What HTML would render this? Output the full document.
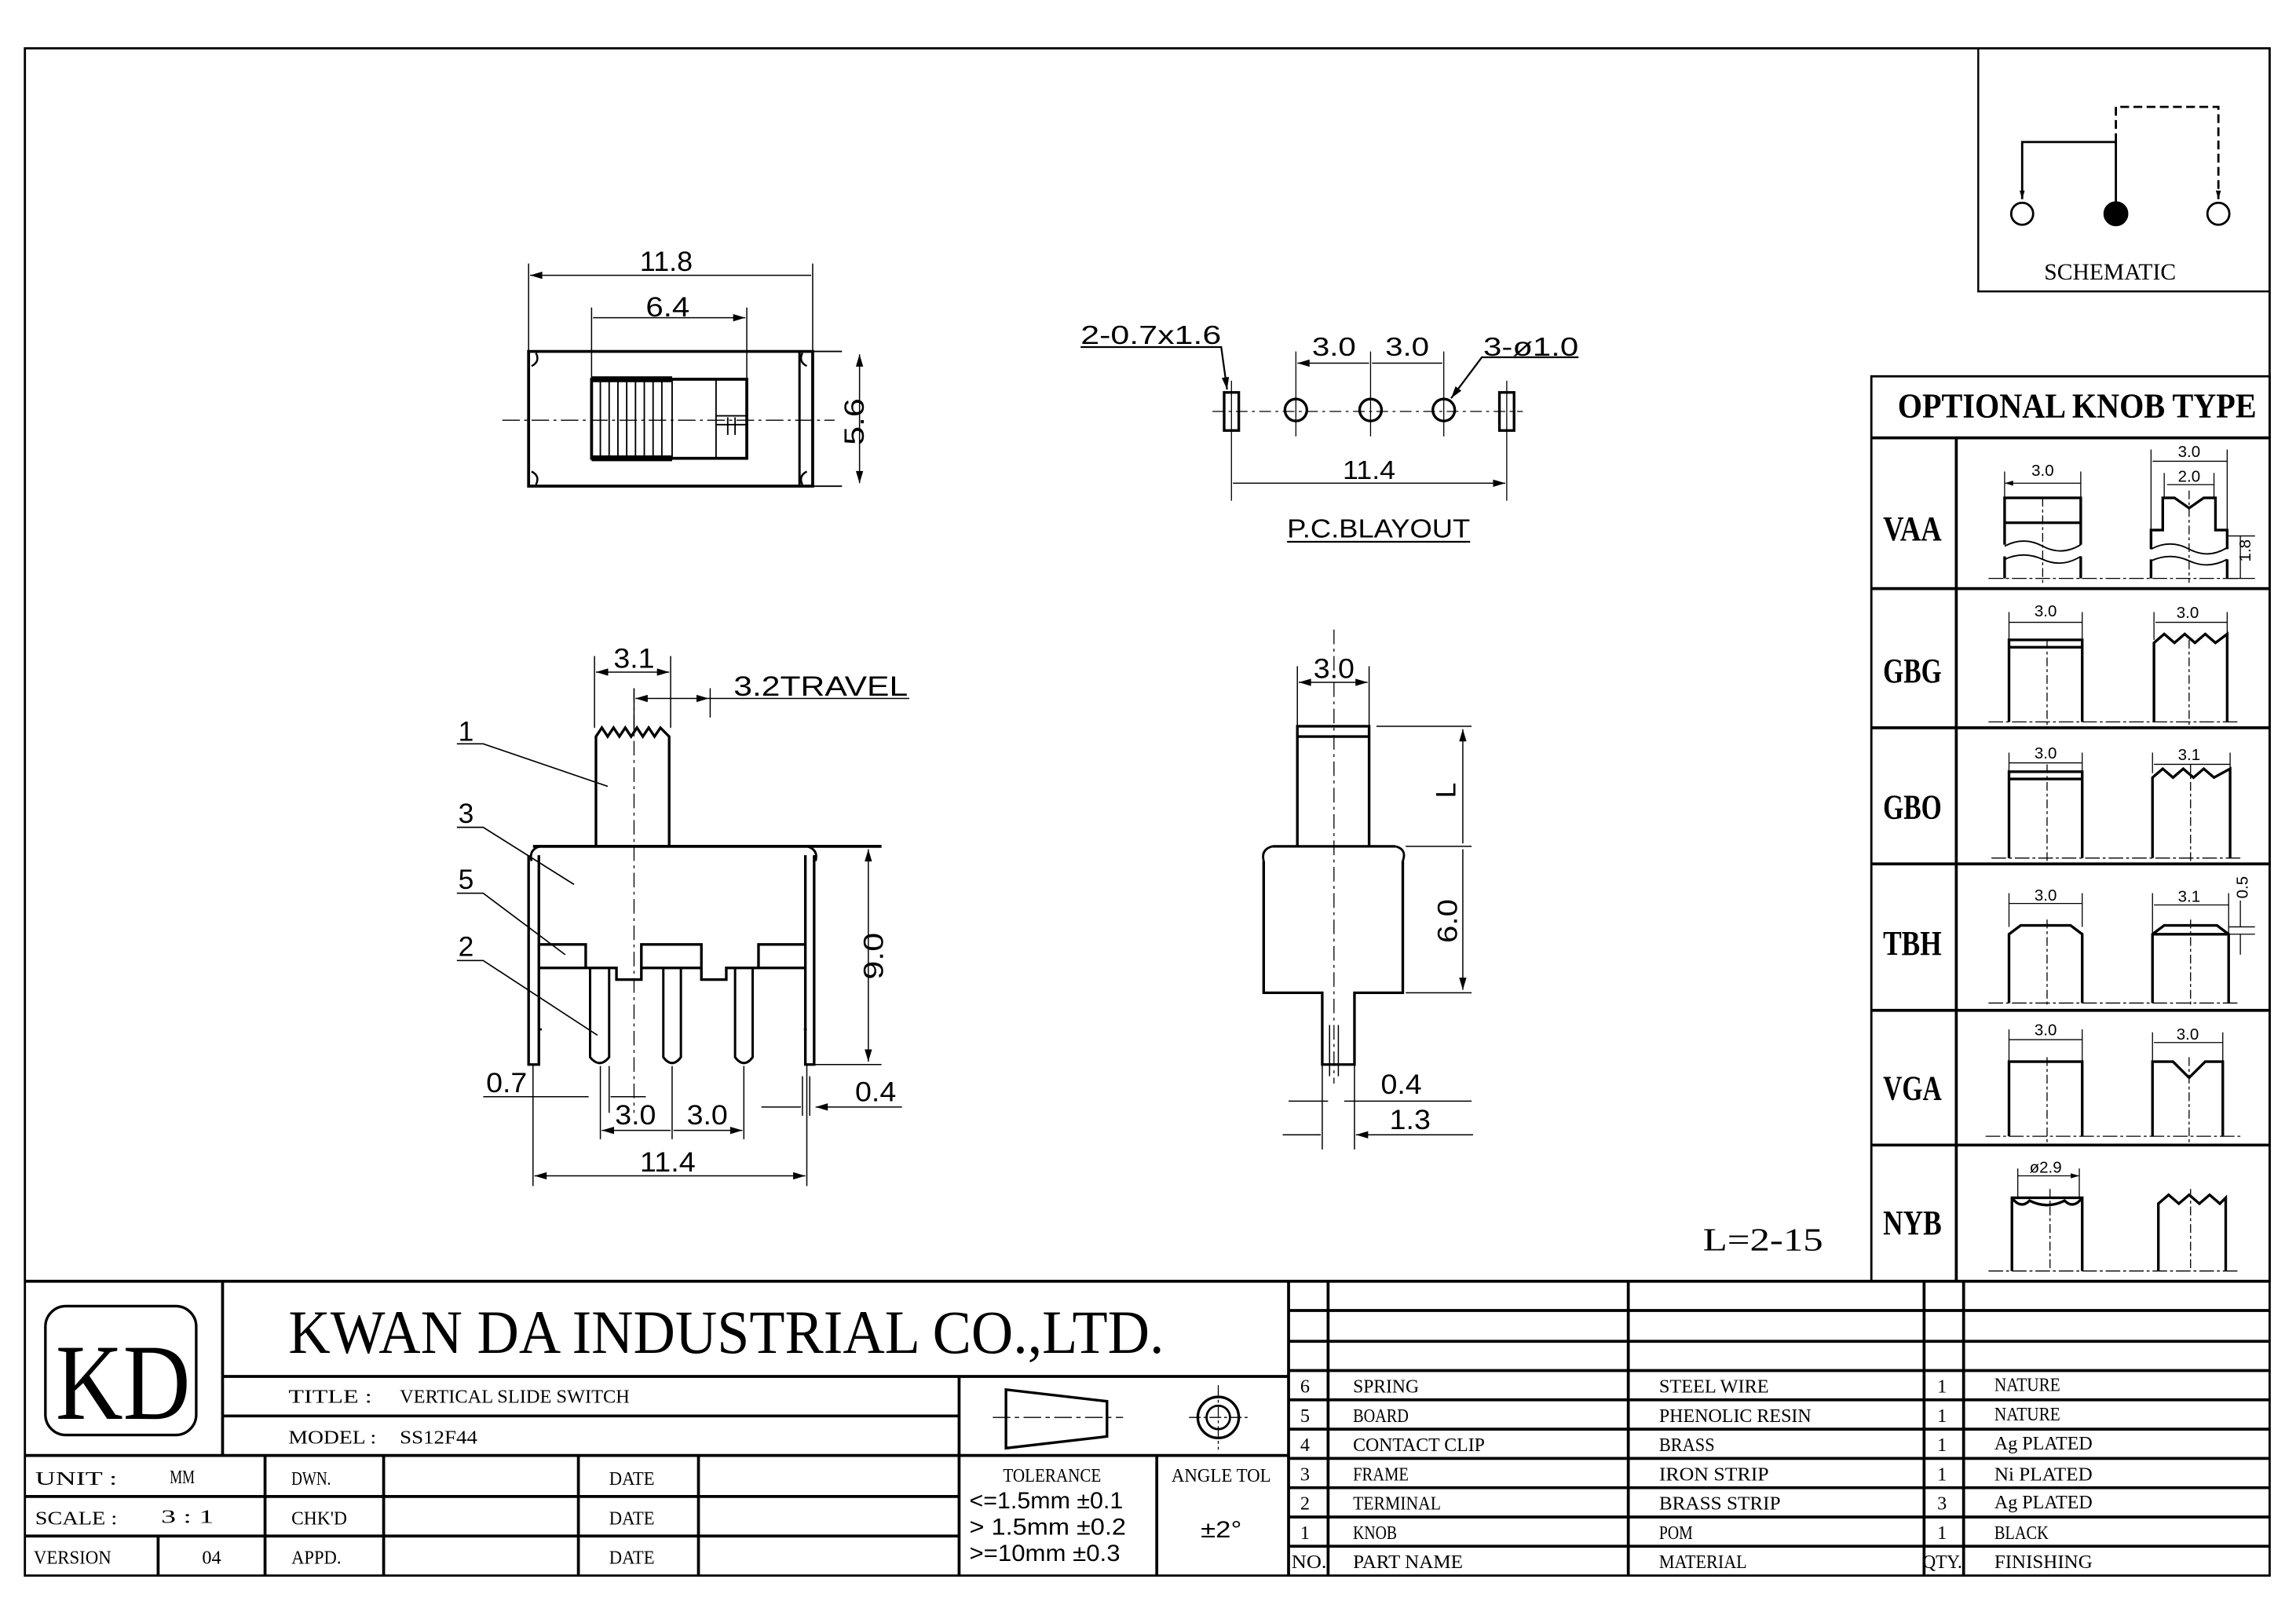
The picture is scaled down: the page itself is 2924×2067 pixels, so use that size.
<!DOCTYPE html>
<html><head><meta charset="utf-8">
<style>
html,body{margin:0;padding:0;background:#fff;}
svg{display:block;}
text{font-family:"Liberation Serif",serif;fill:#000;}
.s{font-family:"Liberation Sans",sans-serif;}
</style></head>
<body>
<svg width="2924" height="2067" viewBox="0 0 1568 1108.4" preserveAspectRatio="none" xmlns="http://www.w3.org/2000/svg">
<defs>
<marker id="a" viewBox="0 0 10 6" refX="10" refY="3" markerWidth="9" markerHeight="5" orient="auto-start-reverse" markerUnits="userSpaceOnUse"><path d="M0,0L10,3L0,6z" fill="#000"/></marker>
<marker id="b" viewBox="0 0 10 6" refX="10" refY="3" markerWidth="6" markerHeight="3.5" orient="auto-start-reverse" markerUnits="userSpaceOnUse"><path d="M0,0L10,3L0,6z" fill="#000"/></marker>
</defs>
<rect width="1568" height="1108.4" fill="#fff"/>
<g fill="none" stroke="#000">
<rect x="17" y="33" width="1533" height="1043" stroke-width="1.5"/>
<path d="M1351,33V199H1550" stroke-width="1.3"/>
<path d="M1445,138V97H1381V136" stroke-width="1.5" marker-end="url(#b)"/>
<path d="M1445,97V73H1515V136" stroke-width="1.5" stroke-dasharray="6,3" marker-end="url(#b)"/>
<circle cx="1381" cy="146" r="7.5" stroke-width="1.5"/>
<circle cx="1445" cy="146" r="8" fill="#000"/>
<circle cx="1515" cy="146" r="7.5" stroke-width="1.5"/>
<rect x="1278" y="257" width="272" height="618" stroke-width="1.5"/>
<path d="M1278,299H1550M1278,402H1550M1278,497H1550M1278,590H1550M1278,690H1550M1278,782H1550M1336,299V875" stroke-width="2"/>
</g>
<text x="1296" y="285" font-size="24" font-weight="bold" textLength="245" lengthAdjust="spacingAndGlyphs">OPTIONAL KNOB TYPE</text>
<g font-size="24" font-weight="bold">
<text x="1286" y="369" textLength="40" lengthAdjust="spacingAndGlyphs">VAA</text>
<text x="1286" y="466" textLength="40" lengthAdjust="spacingAndGlyphs">GBG</text>
<text x="1286" y="559" textLength="40" lengthAdjust="spacingAndGlyphs">GBO</text>
<text x="1286" y="652" textLength="40" lengthAdjust="spacingAndGlyphs">TBH</text>
<text x="1286" y="751" textLength="40" lengthAdjust="spacingAndGlyphs">VGA</text>
<text x="1286" y="843" textLength="40" lengthAdjust="spacingAndGlyphs">NYB</text>
</g>
<g class="s" font-size="11" text-anchor="middle">
<text class="s" x="1395" y="325">3.0</text>
<text class="s" x="1495" y="312">3.0</text>
<text class="s" x="1495" y="329">2.0</text>
<text class="s" x="1397" y="421">3.0</text>
<text class="s" x="1494" y="422">3.0</text>
<text class="s" x="1397" y="518">3.0</text>
<text class="s" x="1495" y="519">3.1</text>
<text class="s" x="1397" y="615">3.0</text>
<text class="s" x="1495" y="616">3.1</text>
<text class="s" x="1397" y="707">3.0</text>
<text class="s" x="1494" y="710">3.0</text>
<text class="s" x="1397" y="801">ø2.9</text>
<text class="s" x="1537" y="376" transform="rotate(-90 1537 376)">1.8</text>
<text class="s" x="1535" y="606" transform="rotate(-90 1535 606)">0.5</text>
</g>
<g fill="none" stroke="#000" stroke-width="0.7">
<path d="M1369,330H1421M1470,315H1521M1480,331H1512M1372,425H1422M1472,425H1521M1372,521H1422M1471,522H1523M1372,617H1422M1471,618H1522M1372,710H1422M1471,712H1518M1378,803H1420" marker-start="url(#b)" marker-end="url(#b)"/>
<path d="M1369,322V340M1421,322V340M1469,307V362M1521,307V362M1478,323V340M1512,323V340M1372,418V437M1422,418V437M1471,418V437M1521,418V437M1372,514V527M1422,514V527M1470,514V528M1523,514V528M1372,610V633M1422,610V633M1470,610V638M1522,610V638M1372,703V725M1422,703V725M1470,705V725M1518,705V725M1378,798V818M1420,798V818"/>
<path d="M1358,395H1530M1358,493H1530M1360,586H1530M1358,685H1528M1356,776H1530M1358,868H1530" stroke-dasharray="10,2,2,2"/>
<path d="M1395,340V398M1495,335V398M1398,437V495M1495,437V495M1398,522V590M1496,522V590M1398,628V688M1496,628V688M1398,722V780M1495,722V780M1400,812V868M1496,812V868" stroke-dasharray="6,2,2,2"/>
<path d="M1521,366H1540M1521,395H1540M1530,366V395M1522,633H1540M1522,638H1540M1530,615V633M1530,638V652" />
</g>
<g fill="none" stroke="#000" stroke-width="1.8">
<path d="M1369,395V380M1369,372V340H1421V372M1421,380V395M1369,357H1421"/>
<path d="M1369,373Q1382,366 1395,373T1421,372M1369,382Q1382,376 1395,382T1421,380" stroke-width="1"/>
<path d="M1469,395V382M1469,375V362H1477V340H1485L1495,347L1505,340H1513V362H1521V375M1521,382V395"/>
<path d="M1469,375Q1482,368 1495,375T1521,374M1469,383Q1482,377 1495,383T1521,382" stroke-width="1"/>
<path d="M1372,493V437H1422V493M1372,442H1422"/>
<path d="M1471,493V439L1478,433L1485,439L1492,433L1499,439L1506,433L1513,439L1521,433V493"/>
<path d="M1372,586V527H1422V586M1372,532H1422"/>
<path d="M1470,586V531L1477,525L1484,531L1491,525L1498,531L1505,525L1512,531L1523,525V586"/>
<path d="M1372,685V638L1380,632H1414L1422,638V685"/>
<path d="M1470,685V638L1478,632H1514L1522,638V685M1470,638H1522"/>
<path d="M1372,776V725H1422V776"/>
<path d="M1470,776V725H1484L1495,736L1506,725H1518V776"/>
<path d="M1374,868V818H1422V868M1374,818Q1380,826 1386,820Q1398,826 1410,820Q1416,826 1422,818"/>
<path d="M1474,868V822L1481,816L1488,822L1495,816L1502,822L1509,816L1516,822L1520,818V868"/>
</g>

<g fill="none" stroke="#000">
<path d="M361,240H555V332H361Z M361,240H543M367,332H543" stroke-width="2"/>
<path d="M361,240V332M546,240V332" stroke-width="1.6"/>
<path d="M366,241q3,6 -3,9M548,241q-3,6 3,9M366,331q3,-6 -3,-9M548,331q-3,-6 3,-9" stroke-width="1.3"/>
<path d="M555,240H575M555,332H575" stroke-width="1"/>
<path d="M587,242V330" stroke-width="0.8" marker-start="url(#a)" marker-end="url(#a)"/>
<path d="M361,180V240M555,180V240M404,210V259M510,210V259" stroke-width="0.8"/>
<path d="M362,188H554M405,217H509" stroke-width="0.8" marker-start="url(#a)" marker-end="url(#a)"/>
<rect x="404" y="259" width="106" height="54" stroke-width="2"/>
<path d="M404,259H459M404,313H459" stroke-width="4"/>
<path d="M459,259V313M489,259V313M410,260V312M416,260V312M422,260V312M428,260V312M434,260V312M440,260V312M446,260V312M452,260V312M489,284H510M489,290H510M497,285V297M502,285V297" stroke-width="1"/>
<path d="M343,287H570" stroke-width="0.7" stroke-dasharray="12,3,2,3"/>
</g>
<g class="s" font-size="19">
<text class="s" x="437" y="185" textLength="36" lengthAdjust="spacingAndGlyphs">11.8</text>
<text class="s" x="441" y="216" textLength="30" lengthAdjust="spacingAndGlyphs">6.4</text>
<text class="s" x="590" y="304" transform="rotate(-90 590 304)" textLength="32" lengthAdjust="spacingAndGlyphs">5.6</text>
</g>

<g fill="none" stroke="#000">
<rect x="836" y="268" width="10" height="26" stroke-width="1.8"/>
<rect x="1024" y="268" width="10" height="26" stroke-width="1.8"/>
<circle cx="885" cy="280" r="7.5" stroke-width="1.8"/>
<circle cx="936" cy="280" r="7.5" stroke-width="1.8"/>
<circle cx="986" cy="280" r="7.5" stroke-width="1.8"/>
<path d="M828,281H1040" stroke-width="0.7" stroke-dasharray="8,3,2,3"/>
<path d="M885,240V298M936,240V298M986,240V298M841,300V342M1029,300V342M841,260V300M1029,260V300" stroke-width="0.7"/>
<path d="M886,248H935M937,248H985M842,330H1028" stroke-width="0.8" marker-start="url(#a)" marker-end="url(#a)"/>
<path d="M738,237H834L838,266" stroke-width="1.2" marker-end="url(#a)"/>
<path d="M1078,244H1012L991,272" stroke-width="1.2" marker-end="url(#a)"/>
<path d="M879,370H1004" stroke-width="1.2"/>
</g>
<g class="s" font-size="18">
<text class="s" x="738" y="235" textLength="96" lengthAdjust="spacingAndGlyphs">2-0.7x1.6</text>
<text class="s" x="896" y="243" textLength="30" lengthAdjust="spacingAndGlyphs">3.0</text>
<text class="s" x="946" y="243" textLength="30" lengthAdjust="spacingAndGlyphs">3.0</text>
<text class="s" x="1013" y="243" textLength="65" lengthAdjust="spacingAndGlyphs">3-ø1.0</text>
<text class="s" x="917" y="327" textLength="36" lengthAdjust="spacingAndGlyphs">11.4</text>
<text class="s" x="879" y="367" textLength="125" lengthAdjust="spacingAndGlyphs">P.C.BLAYOUT</text>
</g>

<g fill="none" stroke="#000">
<path d="M407,578V503L411,497L415,503L419,497L423,503L427,497L431,503L435,497L439,503L443,497L447,503L451,497L457,503V578" stroke-width="1.8"/>
<path d="M433,470V760" stroke-width="0.7" stroke-dasharray="10,3,2,3"/>
<path d="M364,578H602" stroke-width="2"/>
<path d="M361,584V727H368V584M550,584V727H556V584" stroke-width="1.8"/>
<path d="M369,578q-8,2 -6,10M551,578q8,2 6,10" stroke-width="1.5"/>
<path d="M368,703H370M549,703H551" stroke-width="1.5"/>
<path d="M368,645H400V661M438,661V645H479V661M518,661V645H550M368,661H421V669H438V661H479V669H496V661H550" stroke-width="1.8"/>
<path d="M403,661V722q6.5,8 13,0V661M453,661V722q6,8 12,0V661M502,661V722q6,8 12,0V661" stroke-width="1.6"/>
<path d="M556,727H602" stroke-width="0.8"/>
<path d="M593,580V725" stroke-width="0.8" marker-start="url(#a)" marker-end="url(#a)"/>
<path d="M406,448V497M458,448V497M433,470V500M485,470V490" stroke-width="0.8"/>
<path d="M407,459H457" stroke-width="0.8" marker-start="url(#a)" marker-end="url(#a)"/>
<path d="M470,477H434" stroke-width="0.8" marker-end="url(#a)"/>
<path d="M621,477H470L484,477" stroke-width="0.8" marker-end="url(#a)"/>
<path d="M364,727V810M551,727V810M410,728V778M459,728V778M508,728V778M416,728V760M548,735V762M553,735V762" stroke-width="0.8"/>
<path d="M365,803H550" stroke-width="0.8" marker-start="url(#a)" marker-end="url(#a)"/>
<path d="M411,772H458M460,772H507" stroke-width="0.8" marker-start="url(#a)" marker-end="url(#a)"/>
<path d="M330,749H402M441,749H417M520,756H547M616,756H557" stroke-width="0.8" marker-end="url(#a)"/>
<path d="M312,508H330L415,537M312,565H330L392,604M312,610H330L386,652M312,656H330L408,707" stroke-width="0.9"/>
</g>
<g class="s" font-size="19">
<text class="s" x="419" y="456" textLength="28" lengthAdjust="spacingAndGlyphs">3.1</text>
<text class="s" x="501" y="475" textLength="119" lengthAdjust="spacingAndGlyphs">3.2TRAVEL</text>
<text class="s" x="313" y="506">1</text>
<text class="s" x="313" y="562">3</text>
<text class="s" x="313" y="607">5</text>
<text class="s" x="313" y="653">2</text>
<text class="s" x="603" y="669" transform="rotate(-90 603 669)" textLength="32" lengthAdjust="spacingAndGlyphs">9.0</text>
<text class="s" x="332" y="746" textLength="28" lengthAdjust="spacingAndGlyphs">0.7</text>
<text class="s" x="584" y="752" textLength="28" lengthAdjust="spacingAndGlyphs">0.4</text>
<text class="s" x="420" y="768" textLength="28" lengthAdjust="spacingAndGlyphs">3.0</text>
<text class="s" x="469" y="768" textLength="28" lengthAdjust="spacingAndGlyphs">3.0</text>
<text class="s" x="437" y="800" textLength="38" lengthAdjust="spacingAndGlyphs">11.4</text>
</g>

<g fill="none" stroke="#000">
<path d="M886,578V496H935V578M886,503H935" stroke-width="1.8"/>
<path d="M863,588V678H903V727H925V678H958V588M869,578H953" stroke-width="1.8"/>
<path d="M869,578q-8,2 -6,10M953,578q8,2 5,10" stroke-width="1.5"/>
<path d="M911,430V740" stroke-width="0.7" stroke-dasharray="10,3,2,3"/>
<path d="M908,700V735M914,700V735" stroke-width="0.8"/>
<path d="M886,455V496M935,455V496M940,496H1005M960,578H1005M960,678H1005M903,727V785M925,727V785" stroke-width="0.8"/>
<path d="M887,466H934" stroke-width="0.8" marker-start="url(#a)" marker-end="url(#a)"/>
<path d="M999,498V576M999,580V676" stroke-width="0.8" marker-start="url(#a)" marker-end="url(#a)"/>
<path d="M880,752H907M1005,752H918M876,775H902M1006,775H926" stroke-width="0.8" marker-end="url(#a)"/>
</g>
<g class="s" font-size="19">
<text class="s" x="897" y="463" textLength="28" lengthAdjust="spacingAndGlyphs">3.0</text>
<text class="s" x="994" y="545" transform="rotate(-90 994 545)">L</text>
<text class="s" x="995" y="644" transform="rotate(-90 995 644)" textLength="30" lengthAdjust="spacingAndGlyphs">6.0</text>
<text class="s" x="943" y="747" textLength="28" lengthAdjust="spacingAndGlyphs">0.4</text>
<text class="s" x="949" y="771" textLength="28" lengthAdjust="spacingAndGlyphs">1.3</text>
</g>
<text x="1163" y="854" font-size="22" textLength="82" lengthAdjust="spacingAndGlyphs">L=2-15</text>

<g fill="none" stroke="#000" stroke-width="2">
<path d="M17,875H1550"/>
<path d="M152,875V994M152,940H880M152,967H655M655,940V1076M17,994H880M17,1022H655M17,1049H655M108,1049V1076M181,994V1076M262,994V1076M395,994V1076M477,994V1076M790,994V1076"/>
<rect x="31" y="892" width="103" height="88" rx="14" stroke-width="1.8"/>
<path d="M880,875V1076M907,875V1076M1112,875V1076M1314,875V1076M1341,875V1076"/>
<path d="M880,895H1550M880,916H1550M880,936H1550M880,956H1550M880,976H1550M880,996H1550M880,1016H1550M880,1036H1550M880,1056H1550"/>
</g>
<g fill="none" stroke="#000">
<path d="M687,949L756,957V981L687,989Z" stroke-width="1.8"/>
<path d="M678,968H767" stroke-width="0.7" stroke-dasharray="12,3,3,3"/>
<circle cx="832" cy="968" r="14" stroke-width="1.8"/>
<circle cx="832" cy="968" r="8" stroke-width="1.5"/>
<path d="M812,968H852M832,946V990" stroke-width="0.7" stroke-dasharray="8,2,2,2"/>
</g>
<text x="38" y="969" font-size="74" textLength="92" lengthAdjust="spacingAndGlyphs">KD</text>
<text x="197" y="924" font-size="42" textLength="598" lengthAdjust="spacingAndGlyphs">KWAN DA INDUSTRIAL CO.,LTD.</text>
<g font-size="13">
<text x="197" y="958" textLength="57" lengthAdjust="spacingAndGlyphs">TITLE :</text>
<text x="273" y="958" textLength="157" lengthAdjust="spacingAndGlyphs">VERTICAL SLIDE SWITCH</text>
<text x="197" y="986" textLength="60" lengthAdjust="spacingAndGlyphs">MODEL :</text>
<text x="273" y="986" textLength="53" lengthAdjust="spacingAndGlyphs">SS12F44</text>
<text x="24" y="1014" textLength="56" lengthAdjust="spacingAndGlyphs">UNIT :</text>
<text x="116" y="1013" textLength="17" lengthAdjust="spacingAndGlyphs">MM</text>
<text x="24" y="1041" textLength="56" lengthAdjust="spacingAndGlyphs">SCALE :</text>
<text x="110" y="1040" textLength="36" lengthAdjust="spacingAndGlyphs">3 : 1</text>
<text x="23" y="1068" textLength="53" lengthAdjust="spacingAndGlyphs">VERSION</text>
<text x="138" y="1068" textLength="13" lengthAdjust="spacingAndGlyphs">04</text>
<text x="199" y="1014" textLength="27" lengthAdjust="spacingAndGlyphs">DWN.</text>
<text x="199" y="1041" textLength="38" lengthAdjust="spacingAndGlyphs">CHK'D</text>
<text x="199" y="1068" textLength="34" lengthAdjust="spacingAndGlyphs">APPD.</text>
<text x="416" y="1014" textLength="31" lengthAdjust="spacingAndGlyphs">DATE</text>
<text x="416" y="1041" textLength="31" lengthAdjust="spacingAndGlyphs">DATE</text>
<text x="416" y="1068" textLength="31" lengthAdjust="spacingAndGlyphs">DATE</text>
<text x="685" y="1012" textLength="67" lengthAdjust="spacingAndGlyphs">TOLERANCE</text>
<text x="800" y="1012" textLength="68" lengthAdjust="spacingAndGlyphs">ANGLE TOL</text>
</g>
<g class="s" font-size="16">
<text class="s" x="662" y="1030" textLength="105" lengthAdjust="spacingAndGlyphs">&lt;=1.5mm ±0.1</text>
<text class="s" x="662" y="1048" textLength="107" lengthAdjust="spacingAndGlyphs">&gt; 1.5mm ±0.2</text>
<text class="s" x="662" y="1066" textLength="103" lengthAdjust="spacingAndGlyphs">&gt;=10mm ±0.3</text>
<text class="s" x="820" y="1050" textLength="28" lengthAdjust="spacingAndGlyphs">±2°</text>
</g>
<g font-size="13">
<text x="888" y="951">6</text><text x="924" y="951" textLength="45" lengthAdjust="spacingAndGlyphs">SPRING</text><text x="1133" y="951" textLength="75" lengthAdjust="spacingAndGlyphs">STEEL WIRE</text><text x="1323" y="951">1</text><text x="1362" y="950" textLength="45" lengthAdjust="spacingAndGlyphs">NATURE</text>
<text x="888" y="971">5</text><text x="924" y="971" textLength="38" lengthAdjust="spacingAndGlyphs">BOARD</text><text x="1133" y="971" textLength="104" lengthAdjust="spacingAndGlyphs">PHENOLIC RESIN</text><text x="1323" y="971">1</text><text x="1362" y="970" textLength="45" lengthAdjust="spacingAndGlyphs">NATURE</text>
<text x="888" y="991">4</text><text x="924" y="991" textLength="90" lengthAdjust="spacingAndGlyphs">CONTACT CLIP</text><text x="1133" y="991" textLength="38" lengthAdjust="spacingAndGlyphs">BRASS</text><text x="1323" y="991">1</text><text x="1362" y="990" textLength="67" lengthAdjust="spacingAndGlyphs">Ag PLATED</text>
<text x="888" y="1011">3</text><text x="924" y="1011" textLength="38" lengthAdjust="spacingAndGlyphs">FRAME</text><text x="1133" y="1011" textLength="75" lengthAdjust="spacingAndGlyphs">IRON STRIP</text><text x="1323" y="1011">1</text><text x="1362" y="1011" textLength="67" lengthAdjust="spacingAndGlyphs">Ni PLATED</text>
<text x="888" y="1031">2</text><text x="924" y="1031" textLength="60" lengthAdjust="spacingAndGlyphs">TERMINAL</text><text x="1133" y="1031" textLength="83" lengthAdjust="spacingAndGlyphs">BRASS STRIP</text><text x="1323" y="1031">3</text><text x="1362" y="1030" textLength="67" lengthAdjust="spacingAndGlyphs">Ag PLATED</text>
<text x="888" y="1051">1</text><text x="924" y="1051" textLength="30" lengthAdjust="spacingAndGlyphs">KNOB</text><text x="1133" y="1051" textLength="23" lengthAdjust="spacingAndGlyphs">POM</text><text x="1323" y="1051">1</text><text x="1362" y="1051" textLength="37" lengthAdjust="spacingAndGlyphs">BLACK</text>
<text x="882" y="1071" textLength="24" lengthAdjust="spacingAndGlyphs">NO.</text><text x="924" y="1071" textLength="75" lengthAdjust="spacingAndGlyphs">PART  NAME</text><text x="1133" y="1071" textLength="60" lengthAdjust="spacingAndGlyphs">MATERIAL</text><text x="1313" y="1071" textLength="27" lengthAdjust="spacingAndGlyphs">QTY.</text><text x="1362" y="1071" textLength="67" lengthAdjust="spacingAndGlyphs">FINISHING</text>
</g>
<text x="1396" y="191" font-size="16" textLength="90" lengthAdjust="spacingAndGlyphs">SCHEMATIC</text>
</svg>
</body></html>
